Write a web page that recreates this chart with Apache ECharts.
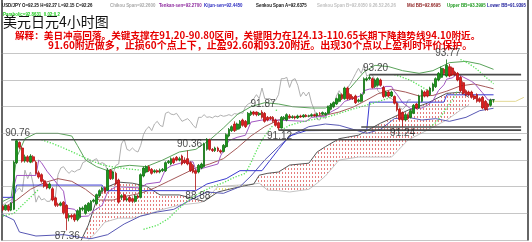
<!DOCTYPE html>
<html><head><meta charset="utf-8">
<script src="https://cdn.jsdelivr.net/npm/echarts@6/dist/echarts.min.js"></script>
<style>html,body{margin:0;padding:0;background:#fff;}#c{width:532px;height:242px;}</style>
</head><body><div id="c"></div>
<script>
// ---- DATA ----
const slotCount = 191;
// candles: [open, close, low, high]
const candles = [
[88.27,88.13,88.08,88.32],[88.13,88.30,88.10,88.34],[88.28,88.12,88.06,88.32],[88.12,88.38,88.08,88.42],
[88.15,89.92,88.12,89.98],[89.90,90.72,89.85,90.76],[90.66,90.48,90.40,90.70],[90.45,89.96,89.90,90.50],
[89.96,90.12,89.90,90.20],[90.12,89.95,89.90,90.18],[89.92,90.15,89.88,90.22],[90.12,89.96,89.90,90.18],
[89.92,89.50,89.45,89.98],[89.52,89.36,89.30,89.60],[89.45,89.20,89.15,89.50],[89.22,89.02,88.96,89.28],
[89.10,88.95,88.90,89.15],[88.95,89.10,88.90,89.16],[88.92,88.50,88.45,88.98],[88.58,88.30,88.24,88.62],
[88.34,88.30,88.24,88.40],[88.30,88.38,88.26,88.44],[88.42,88.02,87.96,88.46],[88.30,87.82,87.36,88.34],
[87.85,87.92,87.70,88.00],[87.92,87.86,87.78,87.98],[87.95,87.75,87.68,88.00],[87.76,88.10,87.70,88.15],
[87.84,88.20,87.80,88.24],[88.15,88.20,88.08,88.26],[88.00,88.30,87.95,88.34],[88.10,88.38,88.05,88.42],
[88.12,88.45,88.08,88.50],[88.45,88.50,88.40,88.55],[88.36,88.70,88.32,88.74],[88.66,88.85,88.62,88.90],
[88.85,88.95,88.80,89.00],[88.95,88.80,88.74,89.00],[88.87,89.62,88.84,89.70],[89.62,89.30,89.25,89.66],
[89.30,89.55,89.26,89.60],[89.50,89.10,89.05,89.56],[89.25,88.42,88.36,89.30],[88.62,88.66,88.50,88.72],
[88.70,88.50,88.45,88.75],[88.50,88.55,88.45,88.60],[88.60,88.45,88.40,88.64],[88.55,88.45,88.38,88.58],
[88.45,88.65,88.40,88.70],[88.65,88.60,88.54,88.70],[88.60,89.45,88.56,89.50],[89.40,89.70,89.35,89.75],
[89.55,89.75,89.50,89.80],[89.75,89.60,89.55,89.80],[89.65,89.50,89.45,89.70],[89.55,89.60,89.50,89.65],
[89.60,89.55,89.50,89.65],[89.55,89.62,89.50,89.68],[89.60,89.65,89.55,89.70],[89.60,89.90,89.55,89.95],
[89.90,89.95,89.85,90.00],[89.85,90.05,89.80,90.10],[90.05,89.90,89.85,90.10],[90.10,90.00,89.95,90.15],
[90.00,90.05,89.95,90.12],[90.15,89.85,89.80,90.20],[90.00,89.90,89.85,90.10],[90.05,89.85,89.80,90.36],
[89.90,89.60,89.55,89.95],[89.80,89.55,89.50,89.85],[89.60,89.50,88.88,89.65],[89.55,89.80,89.50,89.85],
[89.70,89.85,89.65,89.90],[89.75,90.60,89.72,90.65],[90.40,90.78,90.35,90.82],[90.75,90.40,90.35,90.80],
[90.40,90.35,90.30,90.45],[90.35,90.45,90.30,90.50],[90.45,90.35,90.30,90.50],[90.35,90.30,90.24,90.40],
[90.32,90.55,90.28,90.60],[90.50,90.95,90.45,91.00],[90.90,91.15,90.85,91.20],[91.10,91.25,91.05,91.30],
[91.35,91.10,91.05,91.45],[91.15,91.35,91.10,91.40],[91.20,91.45,91.15,91.50],[91.50,91.30,91.25,91.55],
[91.45,91.25,91.20,91.50],[91.35,91.75,91.30,91.80],[91.70,91.80,91.65,91.85],[91.80,91.72,91.66,91.84],
[91.80,91.70,91.64,91.82],[91.70,91.75,91.65,91.80],[91.80,91.60,91.55,91.87],[91.75,91.45,91.40,91.80],
[91.60,91.50,91.45,91.65],[91.60,91.55,91.50,91.65],[91.60,91.45,91.40,91.65],[91.50,91.30,91.25,91.55],
[91.40,91.20,91.12,91.45],[91.20,91.60,91.18,91.65],[91.55,91.60,91.50,91.65],[91.50,91.70,91.45,91.75],
[91.65,91.60,91.55,91.72],[91.60,91.62,91.55,91.68],[91.62,91.58,91.52,91.66],[91.58,91.65,91.54,91.70],
[91.65,91.62,91.58,91.70],[91.62,91.68,91.58,91.72],[91.68,91.64,91.60,91.72],[91.64,91.66,91.60,91.70],
[91.66,91.70,91.62,91.75],[91.70,91.66,91.62,91.74],[91.66,91.74,91.62,91.78],[91.74,91.72,91.68,91.80],
[91.72,91.78,91.68,91.82],[91.70,91.75,91.66,91.80],[91.75,92.00,91.72,92.04],[91.90,92.10,91.86,92.14],
[92.00,92.15,91.96,92.20],[92.10,92.30,92.06,92.34],[92.20,92.45,92.16,92.50],[92.45,92.30,92.25,92.50],
[92.30,92.70,92.26,92.75],[92.70,92.30,92.25,92.75],[92.45,92.30,92.25,92.50],[92.35,92.30,92.25,92.40],
[92.40,92.15,92.10,92.45],[92.20,92.25,92.15,92.30],[92.20,92.45,92.16,92.50],[92.50,93.05,92.45,93.10],
[93.00,93.05,92.95,93.12],[93.05,93.10,93.00,93.20],[93.05,92.72,92.68,93.10],[92.75,93.00,92.70,93.05],
[92.80,93.05,92.75,93.10],[93.00,92.80,92.75,93.05],[92.72,92.38,92.32,92.78],[92.40,92.55,92.35,92.60],
[92.55,92.40,92.35,92.60],[92.40,92.55,92.36,92.60],[92.38,92.13,92.08,92.42],[92.13,91.88,91.82,92.18],
[91.90,91.52,91.48,91.95],[91.78,91.50,91.24,91.82],[91.50,91.70,91.46,91.75],[91.70,91.55,91.50,91.74],
[91.60,91.85,91.56,91.90],[91.75,92.05,91.72,92.10],[92.10,91.95,91.90,92.14],[91.95,92.40,91.92,92.45],
[92.20,92.60,92.16,92.65],[92.55,92.40,92.35,92.60],[92.60,92.40,92.35,92.65],[92.45,92.70,92.40,92.75],
[92.60,92.85,92.56,92.90],[92.75,93.05,92.70,93.10],[93.00,93.25,92.95,93.30],[93.10,93.44,93.05,93.50],
[93.40,93.25,93.20,93.45],[93.15,93.55,93.10,93.77],[93.50,93.15,93.10,93.60],[93.45,93.20,93.15,93.50],
[93.30,93.20,93.15,93.35],[93.25,93.00,92.95,93.30],[93.10,92.60,92.55,93.15],[92.90,92.50,92.45,92.95],
[92.60,92.45,92.40,92.65],[92.55,92.45,92.40,92.60],[92.55,92.35,92.30,92.60],[92.40,92.30,92.25,92.45],
[92.45,92.20,92.15,92.50],[92.30,92.20,92.15,92.35],[92.35,91.95,91.90,92.40],[92.20,91.90,91.85,92.25],
[92.10,92.00,91.85,92.15],[92.05,92.25,92.00,92.30],[92.25,92.26,92.15,92.27]
];
const chikouShift = 30;
const bbUpper = [[0,88.45],[3,88.6],[5,90.1],[8,90.8],[12,91.0],[20,91.0],[25,90.9],[27,90.55],[30,90.0],[34,89.75],[38,89.6],[42,89.75],[46,89.8],[52,89.75],[58,90.0],[64,90.3],[70,90.4],[75,90.75],[80,91.2],[85,91.7],[90,92.0],[95,92.15],[100,92.1],[105,92.0],[112,91.95],[117,91.95],[121,92.2],[126,92.7],[131,93.3],[135,93.55],[140,93.5],[145,93.35],[151,93.25],[156,93.35],[162,93.65],[168,93.7],[173,93.6],[178,93.40]];
const bbMid = [[0,88.2],[5,88.5],[10,88.9],[15,89.15],[20,89.3],[25,89.2],[30,88.9],[35,88.5],[40,88.5],[45,88.65],[50,88.75],[55,88.95],[60,89.2],[65,89.45],[70,89.7],[75,89.85],[80,90.05],[85,90.45],[90,90.9],[95,91.25],[100,91.5],[105,91.6],[111,91.65],[117,91.68],[122,91.8],[127,91.98],[132,92.25],[136,92.48],[141,92.65],[146,92.55],[151,92.4],[156,92.42],[161,92.58],[166,92.78],[171,92.85],[175,92.75],[178,92.67]];
const bbLower = [[0,87.95],[4,87.75],[6,87.3],[12,87.15],[22,87.2],[28,87.1],[32,87.05],[38,87.2],[44,87.6],[50,87.9],[56,88.05],[62,88.15],[68,88.5],[74,88.8],[80,88.75],[86,89.0],[90,89.4],[95,90.0],[100,90.5],[105,90.95],[111,91.25],[117,91.35],[122,91.3],[127,91.15],[132,91.0],[137,91.15],[142,91.55],[147,91.6],[152,91.5],[157,91.55],[162,91.45],[168,91.6],[173,91.85],[178,91.94]];
const tenkan = [[0,88.2],[3,88.22],[4,89.0],[5,89.42],[12,89.42],[13,90.0],[14,89.9],[16,89.58],[18,89.33],[20,89.07],[22,88.83],[23,88.2],[26,88.15],[28,87.88],[31,87.9],[33,88.1],[36,88.3],[38,88.8],[41,89.0],[50,88.95],[52,89.1],[57,89.17],[59,89.65],[61,89.78],[66,89.93],[69,89.93],[70,89.62],[78,89.85],[79,90.16],[82,90.73],[85,90.85],[88,90.93],[90,91.42],[94,91.5],[99,91.5],[110,91.45],[112,91.6],[117,91.65],[119,91.8],[122,91.97],[124,92.2],[127,92.3],[130,92.42],[131,92.6],[133,92.66],[137,92.68],[139,92.76],[141,92.76],[142,92.58],[143,92.45],[145,92.15],[148,91.92],[152,91.95],[154,92.05],[156,92.22],[158,92.6],[160,92.82],[161,93.03],[163,93.08],[165,93.23],[167,93.11],[170,92.95],[171,92.88],[174,92.52],[176,92.25],[178,92.27]];
const kijun = [[0,88.6],[4,88.6],[5,89.06],[36,89.06],[37,88.85],[70,88.85],[74,89.1],[81,89.3],[86,89.6],[94,89.6],[100,90.4],[104,90.9],[110,91.1],[132,91.12],[133,92.17],[160,92.17],[161,92.445],[178,92.445]];
const senkouIdx = [28,31,34,37,42,47,52,57,64,71,73,78,84,89,91,93,96,100,104,111,114,117,122,129,137,141,147,154,161,166,169];
const senkouA = [86.9,87.56,88.5,88.95,89.17,89.13,89.02,88.69,88.69,88.5,88.45,88.8,88.95,89.06,89.1,89.43,89.5,89.55,89.81,89.88,90.3,90.5,90.8,90.93,91.38,91.57,91.87,92.13,92.5,92.54,92.36];
const senkouB = [86.5,87.0,87.3,87.67,87.82,87.82,87.94,88.12,88.31,88.39,88.45,89.0,89.05,89.08,89.1,89.13,88.87,88.85,88.8,88.9,89.13,89.4,90.0,90.11,90.11,90.11,90.75,91.12,91.5,91.87,92.06];
const senkouTail = [[177,92.2],[186,92.2],[189,92.35]];
const sarSegments = [
 [[0,87.9],[4,88.0],[6,88.2],[10,88.6],[13,88.9]],
 [[14,90.76],[18,90.62],[22,90.45],[27,90.22],[31,90.02],[36,89.82],[41,89.72],[46,89.66],[50,89.62]],
 [[51,87.4],[56,87.55],[60,87.8],[64,88.2],[68,88.55],[72,88.8],[76,89.0],[80,89.15],[84,89.35],[88,89.5],[90,89.9],[92,90.35],[94,90.75],[96,91.05],[98,91.3]],
 [[99,91.87],[100,91.85]],
 [[101,91.12],[104,91.3],[108,91.42],[114,91.55],[118,91.62],[122,91.75],[126,91.88],[130,92.0],[134,92.12],[138,92.25],[141,92.36]],
 [[142,93.2],[145,93.1],[148,92.98],[151,92.8],[154,92.62]],
 [[155,91.24],[157,91.4],[159,91.65],[161,91.95],[163,92.25],[165,92.6]],
 [[166,93.77],[169,93.62],[172,93.4],[175,93.12],[178,92.86]]
];
const levelPrices = [90.76, 91.12, 91.24, 93.20];
const levelStart = [3, 100, 130, 133];
const levelEnd = 188;
const gridPrices = [87, 88, 89, 90, 91, 92, 93, 94];
const annIdx = [5, 23, 67, 70, 94, 100, 133, 145, 161];
const annPrice = [90.76, 87.36, 90.36, 88.88, 91.87, 91.12, 93.20, 91.24, 93.77];
const annSide = ['high','low','high','low','high','low','high','low','high'];
const headerTexts = [
 'USD/JPY O=92.25 H=92.27 L=92.15 C=92.26', 'Chikou Span=92.2600', 'Tenkan-sen=92.2700', 'Kijun-sen=92.4450',
 'Senkou Span A=92.6375', 'Senkou Span B=92.6050 9.26.52.26.26', 'Mid BB=92.6695', 'Upper BB=93.3995', 'Lower BB=91.9395'
];
const parabolicText = 'Parabolic=92.8631  0.02:0.2';
const titleText = '美元日元4小时图';
const noteLine1 = '解释：美日冲高回落。关键支撑在91.20-90.80区间，关键阻力在124.13-110.65长期下降趋势线94.10附近。';
const noteLine2 = '91.60附近做多，止损60个点上下，止盈92.60和93.20附近。出现30个点以上盈利时评价保护。';

// ---- STYLE ----
const headerX = [2, 110, 159, 204, 256, 317, 407, 447, 487];
const headerColor = ['#111','#a8a8a8','#8e2a9e','#2a2ac0','#111','#c0c0c0','#8b1a1a','#1f9a1f','#1a1a9a'];
const annShift = [1, 1, 2, 2, 1, 1, 6, 0, 1];
const headerFont = 'bold 5.5px "Liberation Sans", sans-serif';
const headerSqueeze = 0.8;

function makePattern(color){
  const cv = document.createElement('canvas'); cv.width = 3; cv.height = 4;
  const ctx = cv.getContext('2d'); ctx.fillStyle = color; ctx.fillRect(0,0,1,2);
  return {image: cv, repeat: 'repeat'};
}
const redHatch = makePattern('rgba(224,92,92,0.8)');
const yelHatch = makePattern('rgba(230,220,110,0.95)');

const cats = Array.from({length: slotCount}, (_, i) => String(i));
const closes = candles.map(c => c[1]);
const chikou = closes.slice(chikouShift).map((v, i) => [i, v]);
const cloudData = [];
for (let k = 0; k < senkouIdx.length - 1; k++) {
  cloudData.push([senkouIdx[k], senkouA[k], senkouB[k], senkouIdx[k+1], senkouA[k+1], senkouB[k+1]]);
}
function thin(name, data, color, extra){
  return Object.assign({type:'line', name, data, showSymbol:false, symbol:'none', silent:true,
    lineStyle:{color, width:1}, z:3, animation:false}, extra||{});
}
const series = [];
series.push({
  type:'custom', name:'cloud', data: cloudData, clip:true, z:1, silent:true,
  renderItem(params, api){
    const i0=api.value(0), a0=api.value(1), b0=api.value(2), i1=api.value(3), a1=api.value(4), b1=api.value(5);
    const pts=[api.coord([i0,a0]),api.coord([i1,a1]),api.coord([i1,b1]),api.coord([i0,b0])];
    const red=(a0+a1)>=(b0+b1);
    return {type:'polygon', shape:{points:pts}, style:{fill: red?redHatch:yelHatch}};
  }
});
series.push(thin('senkouB', senkouIdx.map((x,k)=>[x,senkouB[k]]), '#c4c4c4', {
  markLine:{silent:true, symbol:'none', label:{show:false},
    lineStyle:{type:'dotted', color:'#8c8c8c', width:1}, data: gridPrices.map(p=>({yAxis:p}))}, z:2}));
series.push(thin('senkouA', senkouIdx.map((x,k)=>[x,senkouA[k]]), '#555555', {z:2}));
series.push(thin('senkouTail', senkouTail, '#e2d894'));
series.push(thin('chikou', chikou, '#b0b0b0'));
series.push(thin('bbUpper', bbUpper, '#5aa35a'));
series.push(thin('bbMid', bbMid, '#a65a5a'));
series.push(thin('bbLower', bbLower, '#5858b4'));
series.push(thin('tenkan', tenkan, '#a257c2'));
series.push(thin('kijun', kijun, '#3a3ad0'));
sarSegments.forEach((seg,k)=>series.push(thin('sar'+k, seg, '#5ae25a', {lineStyle:{color:'#5ae25a', width:1.3, type:[1.3,1.6]}})));
levelPrices.forEach((p,k)=>series.push(thin('level'+k, [[levelStart[k],p],[levelEnd,p]], '#4a4a4a', {lineStyle:{color:'#4a4a4a', width:1.6}, z:4})));
series.push({
  type:'candlestick', name:'USDJPY', data:candles, barWidth:2.2, z:5, silent:true, animation:false,
  itemStyle:{color:'#1a9a1a', color0:'#e41c1c', borderColor:'#127012', borderColor0:'#b01212', borderWidth:0.8}
});
series.push({
  type:'scatter', name:'ann', symbolSize:0, z:10, silent:true, animation:false,
  data: annIdx.map((x,k)=>({value:[x, annPrice[k]], label:{show:true, position: annSide[k]==='high'?'top':'bottom',
    distance:1, offset:[annShift[k],0], formatter: annPrice[k].toFixed(2)}})),
  label:{fontSize:10, color:'#1c1c1c', fontFamily:'"Liberation Sans", Arial, sans-serif'}
});

const headerChildren = headerTexts.map((t,k)=>({type:'text', x: headerX[k] / headerSqueeze, y: 2.5, silent:true,
  style:{text:t, fill:headerColor[k], font:headerFont}}));
headerChildren.push({type:'text', x: 3 / headerSqueeze, y: 11.5, silent:true, style:{text:parabolicText, fill:'#22cc22', font:headerFont}});
const graphics = [
  {type:'group', x:0, y:0, originX:0, originY:0, scaleX: headerSqueeze, scaleY:1, silent:true, children: headerChildren},
  {type:'text', left:3, top:15, silent:true, style:{text:titleText, fill:'#111', font:'14px "Noto Sans CJK SC", sans-serif'}},
  {type:'text', left:15, top:30.5, silent:true, style:{text:noteLine1, fill:'#e60000', font:'bold 9.65px "Noto Sans CJK SC", sans-serif'}},
  {type:'text', left:48, top:40.5, silent:true, style:{text:noteLine2, fill:'#e60000', font:'bold 10px "Noto Sans CJK SC", sans-serif'}}
];

const chart = echarts.init(document.getElementById('c'), null, {renderer:'canvas'});
chart.setOption({
  animation:false, backgroundColor:'#fff',
  grid:{left:1.5, right:4, top:0, bottom:2, containLabel:false},
  xAxis:{type:'category', data:cats, boundaryGap:true, axisLabel:{show:false}, axisTick:{show:false}, axisLine:{show:false}, splitLine:{show:false}},
  yAxis:[
    {type:'value', min:87, max:96, position:'left', axisLabel:{show:false}, axisTick:{show:false}, splitLine:{show:false}, axisLine:{show:true, lineStyle:{color:'#333', width:1.5}}},
    {type:'value', min:87, max:96, position:'right', axisLabel:{show:false}, axisTick:{show:false}, splitLine:{show:false}, axisLine:{show:true, lineStyle:{color:'#333', width:1.5}}}
  ],
  series, graphic: graphics
});
</script></body></html>
